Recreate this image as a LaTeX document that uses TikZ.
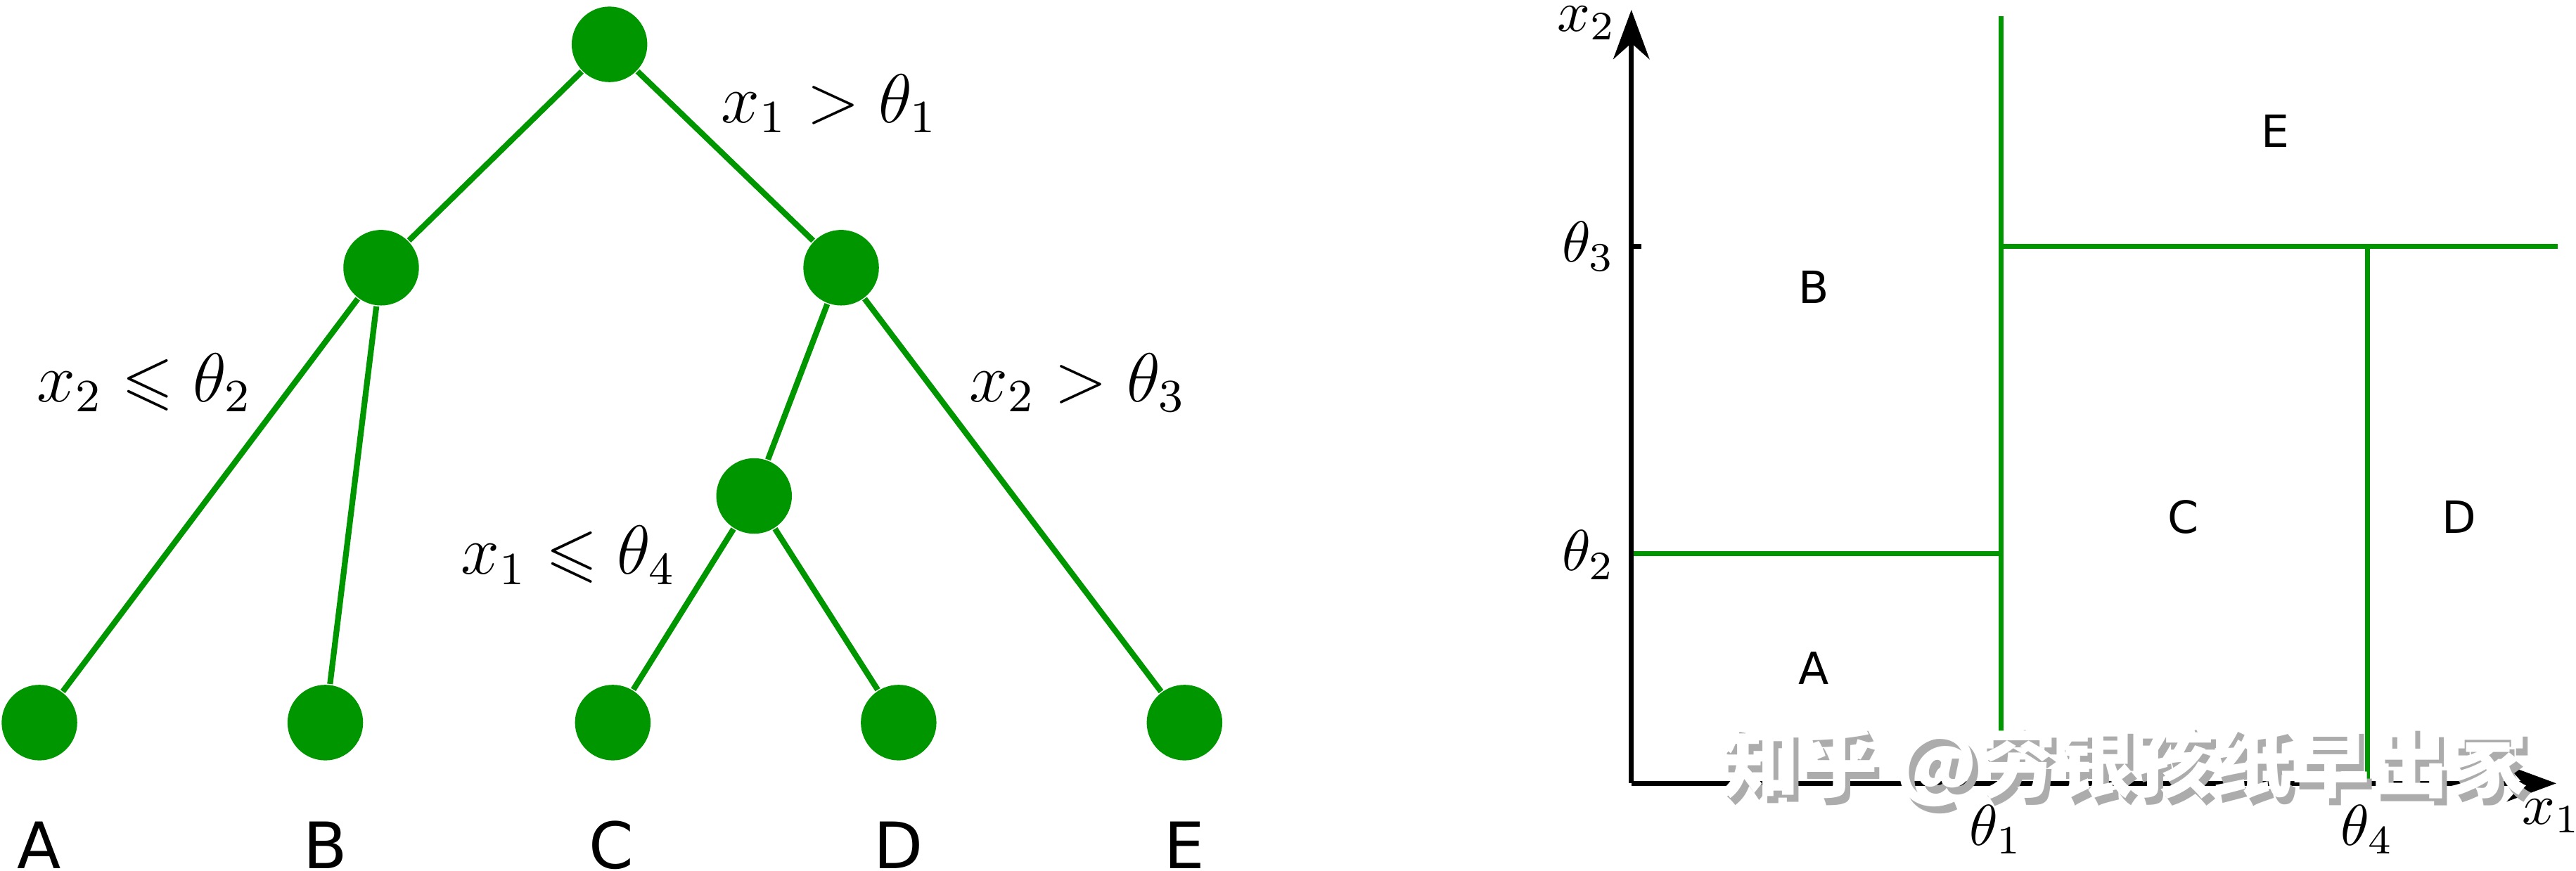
\documentclass[tikz,border=0pt]{standalone}
\usepackage{amssymb}
\usepackage{fontspec}
\newfontfamily\dejavu{DejaVu Sans}
\newfontfamily\cjk{Noto Sans CJK SC}
\usetikzlibrary{arrows.meta}
\definecolor{tgreen}{RGB}{0,150,0}
\begin{document}
\begin{tikzpicture}[x=0.1mm,y=-0.1mm,
  tnode/.style={circle,fill=tgreen,minimum size=4.6mm,inner sep=0pt},
  tedge/.style={draw=tgreen,line width=1pt},
  leaflab/.style={font=\dejavu\fontsize{11.1}{13}\selectfont,inner sep=0pt,anchor=base},
  reglab/.style={font=\dejavu\fontsize{7.7}{9}\selectfont,inner sep=0pt},
  condlab/.style={font=\fontsize{11.5}{14}\selectfont,inner sep=0pt},
  axlab/.style={font=\fontsize{10}{12}\selectfont,inner sep=0pt},
  split/.style={draw=tgreen,line width=0.9pt},
  axis/.style={draw=black,line width=0.9pt,-{Stealth[length=3mm,width=2.2mm]}},
  wmshadow/.style={font=\cjk\bfseries\fontsize{13.6}{16}\selectfont,text=gray!65,inner sep=0pt},
  wmark/.style={font=\cjk\bfseries\fontsize{13.6}{16}\selectfont,text=white,inner sep=0pt}
]
\useasboundingbox (0,0) rectangle (1568,530);
% ---------------- tree ----------------
\node[tnode] (r)  at (371,27)  {};
\node[tnode] (l)  at (232,163) {};
\node[tnode] (rr) at (512,163) {};
\node[tnode] (m)  at (459,302) {};
\node[tnode] (a)  at (24,440)  {};
\node[tnode] (b)  at (198,440) {};
\node[tnode] (c)  at (373,440) {};
\node[tnode] (d)  at (547,440) {};
\node[tnode] (e)  at (721,440) {};
\draw[tedge] (r) -- (l);
\draw[tedge] (r) -- (rr);
\draw[tedge] (l) -- (a);
\draw[tedge] (l) -- (b);
\draw[tedge] (rr) -- (m);
\draw[tedge] (rr) -- (e);
\draw[tedge] (m) -- (c);
\draw[tedge] (m) -- (d);
\node[condlab] (c1) at (505,63)  {$x_1 > \theta_1$};
\node[condlab] (c2) at (88,233)  {$x_2 \leqslant \theta_2$};
\node[condlab] (c3) at (656,233) {$x_2 > \theta_3$};
\node[condlab] (c4) at (346,338) {$x_1 \leqslant \theta_4$};
\node[leaflab] (la) at (24,529)  {A};
\node[leaflab] (lb) at (198,529) {B};
\node[leaflab] (lc) at (372,529) {C};
\node[leaflab] (ld) at (547,529) {D};
\node[leaflab] (le) at (721,529) {E};
% ---------------- partition ----------------
\coordinate (O) at (993,477);
\coordinate (ytop) at (993,6);
\coordinate (xend) at (1556,477);
\coordinate (t1b) at (1218,477);
\coordinate (t1t) at (1218,10);
\coordinate (t2l) at (993,337);
\coordinate (t2r) at (1218,337);
\coordinate (t3l) at (1218,150);
\coordinate (t3r) at (1557,150);
\coordinate (t4t) at (1441,150);
\coordinate (t4b) at (1441,477);
\coordinate (tk3) at (999,150);
\draw[split] (t1b) -- (t1t);
\draw[split] (t2l) -- (t2r);
\draw[split] (t3l) -- (t3r);
\draw[split] (t4t) -- (t4b);
\draw[axis] (O) -- (ytop);
\draw[axis] (O) -- (xend);
\draw[black,line width=0.9pt] (O |- tk3) -- (tk3);
\node[axlab] (lx2) at (966,14)   {$x_2$};
\node[axlab] (lx1) at (1553,497) {$x_1$};
\node[axlab] (lt3) at (967,150)  {$\theta_3$};
\node[axlab] (lt2) at (967,338)  {$\theta_2$};
\node[axlab] (lt1) at (1215,505) {$\theta_1$};
\node[axlab] (lt4) at (1441,505) {$\theta_4$};
\node[reglab] (rE) at (1385,80)  {E};
\node[reglab] (rB) at (1104,175) {B};
\node[reglab] (rC) at (1329,315) {C};
\node[reglab] (rD) at (1497,315) {D};
\node[reglab] (rA) at (1104,407) {A};
\node[wmshadow] (wms) at (1296,470) {知乎 @穷银孩纸早出家};
\node[wmark] (wm) at (1293,466) {知乎 @穷银孩纸早出家};
\end{tikzpicture}
\end{document}
